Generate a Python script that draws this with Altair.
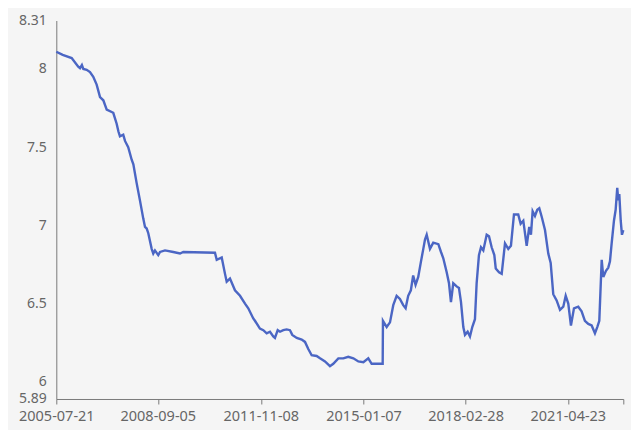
import altair as alt
import pandas as pd

# 2005-07 .. 2011-08
dates_a = [
    "2005-07-21", "2005-10-01", "2006-01-10", "2006-03-25", "2006-04-14", "2006-05-05",
    "2006-05-21", "2006-06-28", "2006-08-04", "2006-09-10", "2006-10-18", "2006-11-25",
    "2007-01-01", "2007-02-08", "2007-04-23", "2007-05-31", "2007-06-20", "2007-07-07",
    "2007-08-13", "2007-09-02", "2007-10-08", "2007-11-16", "2007-12-05", "2008-01-11",
    "2008-02-17", "2008-03-25", "2008-04-14", "2008-05-03", "2008-05-21", "2008-06-28",
    "2008-07-16", "2008-08-04", "2008-09-10", "2008-09-30", "2008-11-25", "2009-02-26",
    "2009-05-13", "2009-06-19", "2010-06-10", "2010-06-30", "2010-08-25", "2010-10-01",
    "2010-10-20", "2010-11-26", "2011-01-21", "2011-03-19", "2011-05-14", "2011-06-20",
    "2011-08-15",
]
rates_a = [
    8.11, 8.09, 8.07, 8.015, 8.005, 8.025,
    8.00, 7.995, 7.98, 7.95, 7.90, 7.82,
    7.80, 7.74, 7.72, 7.65, 7.60, 7.57,
    7.58, 7.54, 7.50, 7.42, 7.39, 7.27,
    7.16, 7.045, 6.99, 6.98, 6.95, 6.85,
    6.82, 6.84, 6.81, 6.83, 6.84, 6.83,
    6.82, 6.83, 6.825, 6.78, 6.795, 6.69,
    6.64, 6.66, 6.585, 6.55, 6.50, 6.47,
    6.405,
]

# 2011-09 .. 2015-08
dates_b = [
    "2011-09-03", "2011-10-29", "2011-12-06", "2012-01-13", "2012-02-19", "2012-03-27",
    "2012-04-15", "2012-05-16", "2012-06-11", "2012-07-18", "2012-08-25", "2012-10-01",
    "2012-10-27", "2012-12-16", "2013-02-10", "2013-03-19", "2013-04-25", "2013-06-02",
    "2013-07-28", "2013-09-04", "2013-10-30", "2013-12-25", "2014-01-31", "2014-03-29",
    "2014-05-24", "2014-07-19", "2014-09-14", "2014-11-09", "2015-01-05", "2015-03-01",
    "2015-04-08", "2015-06-03", "2015-07-29", "2015-08-10",
]
rates_b = [
    6.39, 6.34, 6.33, 6.31, 6.32, 6.29,
    6.28, 6.33, 6.32, 6.33, 6.335, 6.33,
    6.30, 6.28, 6.27, 6.255, 6.21, 6.17,
    6.165, 6.15, 6.13, 6.10, 6.115, 6.15,
    6.15, 6.16, 6.15, 6.13, 6.125, 6.15,
    6.115, 6.115, 6.115, 6.115,
]

# 2015-08 .. 2019-04
dates_c = [
    "2015-08-13", "2015-09-24", "2015-10-31", "2015-12-07", "2016-01-14", "2016-02-20",
    "2016-03-28", "2016-04-24", "2016-05-23", "2016-06-22", "2016-07-18", "2016-08-14",
    "2016-09-13", "2016-10-14", "2016-11-09", "2016-11-28", "2016-12-17", "2017-01-23",
    "2017-03-01", "2017-04-27", "2017-05-27", "2017-06-22", "2017-07-30", "2017-08-25",
    "2017-09-16", "2017-10-12", "2017-11-19", "2017-12-15", "2018-01-07", "2018-02-02",
    "2018-02-21", "2018-03-23", "2018-04-18", "2018-05-14", "2018-06-13", "2018-07-02",
    "2018-07-28", "2018-08-20", "2018-09-15", "2018-10-23", "2018-11-18", "2018-12-18",
    "2019-01-17", "2019-02-02", "2019-03-11", "2019-04-10",
]
rates_c = [
    6.39, 6.35, 6.38, 6.49, 6.55, 6.53,
    6.49, 6.47, 6.55, 6.585, 6.68, 6.62,
    6.67, 6.77, 6.85, 6.91, 6.94, 6.85,
    6.89, 6.88, 6.83, 6.79, 6.70, 6.63,
    6.51, 6.63, 6.61, 6.60, 6.51, 6.35,
    6.30, 6.32, 6.29, 6.35, 6.40, 6.63,
    6.81, 6.86, 6.84, 6.94, 6.93, 6.86,
    6.81, 6.725, 6.70, 6.69,
]

# 2019-05 .. 2023-01
dates_d = [
    "2019-05-17", "2019-06-23", "2019-07-23", "2019-08-26", "2019-10-13", "2019-11-09",
    "2019-12-09", "2020-01-16", "2020-02-14", "2020-03-04", "2020-03-23", "2020-04-18",
    "2020-05-14", "2020-06-06", "2020-07-03", "2020-08-09", "2020-09-15", "2020-10-12",
    "2020-11-10", "2020-12-18", "2021-01-25", "2021-03-03", "2021-03-30", "2021-04-28",
    "2021-05-28", "2021-07-01", "2021-08-18", "2021-09-25", "2021-11-01", "2021-12-09",
    "2022-01-16", "2022-02-22", "2022-03-20", "2022-04-12", "2022-05-09", "2022-05-27",
    "2022-06-26", "2022-07-22", "2022-08-10", "2022-08-29", "2022-09-24", "2022-10-13",
    "2022-10-31", "2022-11-11", "2022-11-23", "2022-12-09", "2022-12-23", "2023-01-07",
]
rates_d = [
    6.885, 6.85, 6.87, 7.07, 7.07, 7.01,
    7.03, 6.87, 6.99, 6.94, 7.09, 7.06,
    7.10, 7.11, 7.055, 6.97, 6.82, 6.76,
    6.56, 6.52, 6.46, 6.48, 6.55, 6.50,
    6.36, 6.47, 6.48, 6.45, 6.39, 6.37,
    6.36, 6.31, 6.35, 6.39, 6.78, 6.67,
    6.71, 6.73, 6.77, 6.885, 7.03, 7.10,
    7.24, 7.16, 7.20, 7.03, 6.94, 6.97,
]

x_tick_dates = ["2005-07-21", "2008-09-05", "2011-11-08", "2015-01-07", "2018-02-28", "2021-04-23"]
x_end_date = "2023-01-07"
y_tick_values = [5.89, 6, 6.5, 7, 7.5, 8, 8.31]
y_min, y_max = 5.89, 8.31

dates = dates_a + dates_b + dates_c + dates_d
rates = rates_a + rates_b + rates_c + rates_d
assert len(dates) == len(rates)
df = pd.DataFrame({"date": dates, "rate": rates})


def dt(s):
    y, m, d = (int(p) for p in s.split("-"))
    return alt.DateTime(year=y, month=m, date=d, utc=True)


font = "Noto Sans"
axis_color = "#7a7a7a"
label_color = "#666666"

chart = (
    alt.Chart(df)
    .mark_line(color="#4b66c4", strokeWidth=2.4)
    .encode(
        x=alt.X(
            "date:T",
            scale=alt.Scale(type="utc", domain=[dt(dates[0]), dt(x_end_date)], nice=False),
            axis=alt.Axis(
                title=None,
                values=[dt(s) for s in x_tick_dates + [x_end_date]],
                labelExpr="datum.index == 1 ? '' : utcFormat(datum.value, '%Y-%m-%d')",
                grid=False,
                domainColor=axis_color,
                tickColor=axis_color,
                tickSize=5,
                labelPadding=6,
                labelFlush=False,
                labelOverlap=False,
                labelColor=label_color,
                labelFont=font,
                labelFontSize=14.5,
            ),
        ),
        y=alt.Y(
            "rate:Q",
            scale=alt.Scale(domain=[y_min, y_max], nice=False, zero=False),
            axis=alt.Axis(
                title=None,
                values=y_tick_values,
                format=".3~r",
                grid=False,
                ticks=False,
                domainColor=axis_color,
                labelPadding=10,
                labelFlush=False,
                labelOverlap=False,
                labelColor=label_color,
                labelFont=font,
                labelFontSize=14,
            ),
        ),
    )
    .properties(
        width=567,
        height=378.5,
        autosize=alt.AutoSizeParams(type="none"),
        padding={"left": 48.3, "top": 12.5, "right": 8, "bottom": 31},
        background="#f5f5f5",
    )
    .configure_view(stroke=None)
)

chart.save("out.html", embed_options={"renderer": "svg", "actions": False})
